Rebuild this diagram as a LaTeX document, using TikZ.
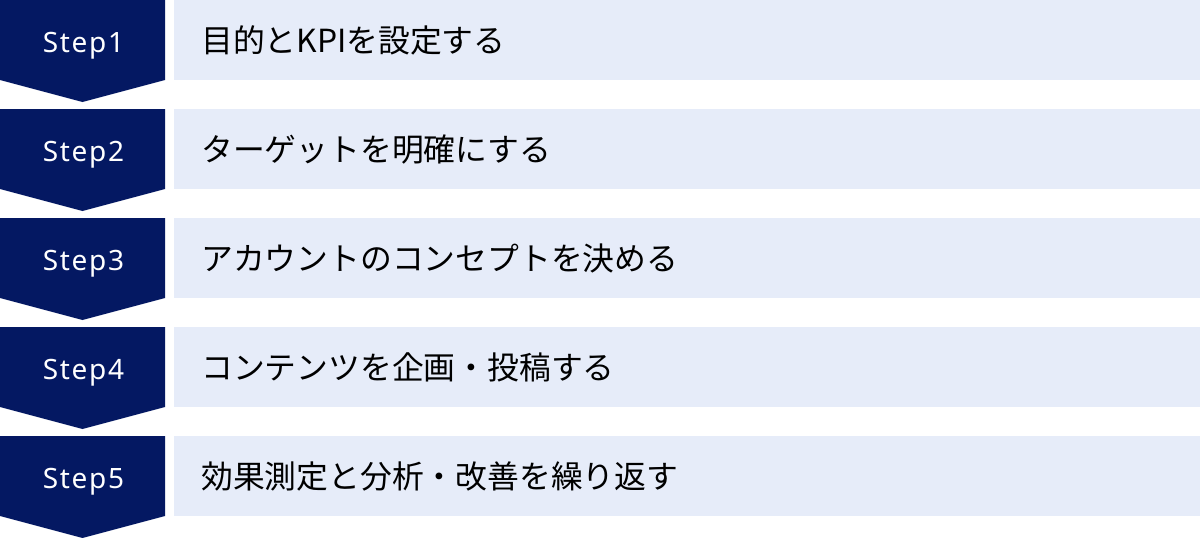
\documentclass[tikz,border=0pt]{standalone}
\usepackage{fontspec}
\setmainfont{Noto Sans}
\newfontfamily\stepfont[LetterSpace=6]{Noto Sans}
\newfontfamily\jpfont{Noto Sans CJK JP}
\definecolor{navy}{RGB}{4,24,98}
\definecolor{lightbox}{RGB}{230,236,249}
\begin{document}
\begin{tikzpicture}[x=1pt,y=-1pt,
  stepshape/.style={fill=navy,draw=none},
  barshape/.style={fill=lightbox,draw=none},
  steplabel/.style={anchor=base,text=white,inner sep=0pt,font=\stepfont\fontsize{28}{30}\selectfont},
  barlabel/.style={anchor=base west,text=black,inner sep=0pt,font=\jpfont\fontsize{31.8}{34}\selectfont}]
\useasboundingbox (0,0) rectangle (1200,538);
\foreach \i/\t in {1/目的とKPIを設定する,2/ターゲットを明確にする,3/アカウントのコンセプトを決める,4/コンテンツを企画・投稿する,5/効果測定と分析・改善を繰り返す}{
  \pgfmathsetmacro{\y}{(\i-1)*109}
  \fill[stepshape] (0,\y) -- (165,\y) -- (165,\y+80) -- (82.5,\y+102) -- (0,\y+80) -- cycle;
  \fill[barshape] (174,\y) rectangle (1200,\y+80);
  \node[steplabel] (s\i) at (83.5,\y+52) {Step\i};
  \node[barlabel] (b\i) at (201,\y+52) {\t};
}
\end{tikzpicture}
\end{document}
